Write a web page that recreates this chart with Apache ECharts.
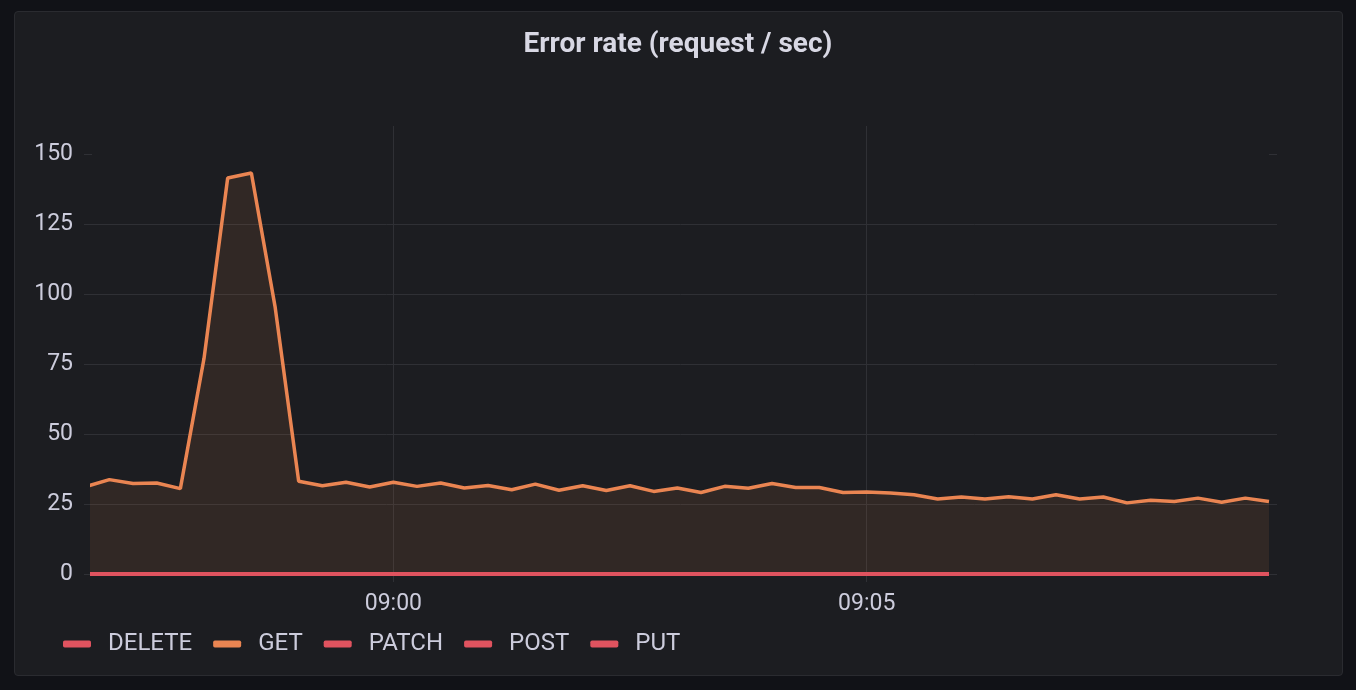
<!DOCTYPE html>
<html>
<head>
<meta charset="utf-8">
<script src="https://cdn.jsdelivr.net/npm/echarts@6/dist/echarts.min.js"></script>
<style>
  html, body { margin: 0; padding: 0; background: #111217; width: 1356px; height: 690px; overflow: hidden; }
  #panel { position: absolute; left: 14px; top: 11px; width: 1327px; height: 663px; background: #1c1d21; border: 1px solid #2a2b30; border-radius: 4px; }
  #chart { position: absolute; left: 0; top: 0; width: 1356px; height: 690px; }
</style>
</head>
<body>
<div id="panel"></div>
<div id="chart"></div>
<script>
const titleText = 'Error rate (request / sec)';
const seriesNames = ['DELETE', 'GET', 'PATCH', 'POST', 'PUT'];
const times = [
  '2024-01-01 08:56:45', '2024-01-01 08:57:00', '2024-01-01 08:57:15', '2024-01-01 08:57:30', '2024-01-01 08:57:45',
  '2024-01-01 08:58:00', '2024-01-01 08:58:15', '2024-01-01 08:58:30', '2024-01-01 08:58:45',
  '2024-01-01 08:59:00', '2024-01-01 08:59:15', '2024-01-01 08:59:30', '2024-01-01 08:59:45',
  '2024-01-01 09:00:00', '2024-01-01 09:00:15', '2024-01-01 09:00:30', '2024-01-01 09:00:45',
  '2024-01-01 09:01:00', '2024-01-01 09:01:15', '2024-01-01 09:01:30', '2024-01-01 09:01:45',
  '2024-01-01 09:02:00', '2024-01-01 09:02:15', '2024-01-01 09:02:30', '2024-01-01 09:02:45',
  '2024-01-01 09:03:00', '2024-01-01 09:03:15', '2024-01-01 09:03:30', '2024-01-01 09:03:45',
  '2024-01-01 09:04:00', '2024-01-01 09:04:15', '2024-01-01 09:04:30', '2024-01-01 09:04:45',
  '2024-01-01 09:05:00', '2024-01-01 09:05:15', '2024-01-01 09:05:30', '2024-01-01 09:05:45',
  '2024-01-01 09:06:00', '2024-01-01 09:06:15', '2024-01-01 09:06:30', '2024-01-01 09:06:45',
  '2024-01-01 09:07:00', '2024-01-01 09:07:15', '2024-01-01 09:07:30', '2024-01-01 09:07:45',
  '2024-01-01 09:08:00', '2024-01-01 09:08:15', '2024-01-01 09:08:30', '2024-01-01 09:08:45',
  '2024-01-01 09:09:00', '2024-01-01 09:09:15'
];
const getValues = [
  31.2, 33.7, 32.3, 32.5, 30.5,
  77.0, 141.4, 143.2, 95.6,
  33.1, 31.5, 32.8, 31.1,
  32.8, 31.3, 32.5, 30.7,
  31.6, 30.1, 32.1, 29.9,
  31.5, 29.8, 31.5, 29.5,
  30.7, 29.1, 31.3, 30.6,
  32.3, 30.9, 30.9, 29.1,
  29.3, 28.9, 28.3, 26.8,
  27.5, 26.8, 27.6, 26.8,
  28.3, 26.8, 27.5, 25.4,
  26.3, 25.9, 27.1, 25.6,
  27.1, 25.9
];
const deleteValues = [0,0,0,0,0,0,0,0,0,0,0,0,0,0,0,0,0,0,0,0,0,0,0,0,0,0,0,0,0,0,0,0,0,0,0,0,0,0,0,0,0,0,0,0,0,0,0,0,0,0,0];
const patchValues  = [0,0,0,0,0,0,0,0,0,0,0,0,0,0,0,0,0,0,0,0,0,0,0,0,0,0,0,0,0,0,0,0,0,0,0,0,0,0,0,0,0,0,0,0,0,0,0,0,0,0,0];
const postValues   = [0,0,0,0,0,0,0,0,0,0,0,0,0,0,0,0,0,0,0,0,0,0,0,0,0,0,0,0,0,0,0,0,0,0,0,0,0,0,0,0,0,0,0,0,0,0,0,0,0,0,0];
const putValues    = [0,0,0,0,0,0,0,0,0,0,0,0,0,0,0,0,0,0,0,0,0,0,0,0,0,0,0,0,0,0,0,0,0,0,0,0,0,0,0,0,0,0,0,0,0,0,0,0,0,0,0];
const yTicks = [0, 25, 50, 75, 100, 125, 150];
const xMin = '2024-01-01 08:56:49';
const xMax = '2024-01-01 09:09:15';

const toTs = s => new Date(s.replace(' ', 'T')).getTime();
const pairs = vals => times.map((t, i) => [toTs(t), vals[i]]);

const RED = '#e0535f';
const ORANGE = '#ea8552';
const GRID = '#2f3035';
const TEXT = '#ccccdc';
const FONT = 'Roboto, "Noto Sans", sans-serif';

function mkSeries(name, vals, color, width) {
  return {
    name: name, type: 'line', data: pairs(vals), showSymbol: false, symbol: 'none',
    lineStyle: { color: color, width: width }, itemStyle: { color: color },
    areaStyle: { color: color, opacity: 0.1 }, clip: true, z: 2
  };
}

const chart = echarts.init(document.getElementById('chart'), null, { renderer: 'canvas' });
chart.setOption({
  animation: false,
  backgroundColor: 'transparent',
  textStyle: { fontFamily: FONT },
  title: {
    text: titleText, left: 'center', top: 26,
    textStyle: { color: '#d8d8e4', fontSize: 28, fontWeight: 'bold', fontFamily: FONT }
  },
  legend: {
    left: 58, top: 627, itemWidth: 28, itemHeight: 7, itemGap: 21, icon: 'roundRect',
    data: seriesNames,
    textStyle: { color: TEXT, fontSize: 24, fontFamily: FONT, padding: [0, 0, 0, 12] }
  },
  grid: { left: 92, right: 87, top: 126, bottom: 116, containLabel: false },
  xAxis: {
    type: 'time', min: toTs(xMin), max: toTs(xMax),
    splitNumber: 2,
    axisLine: { show: false },
    axisTick: { show: true, length: 8, lineStyle: { color: GRID, width: 1 } },
    minorTick: { show: false },
    axisLabel: {
      color: TEXT, fontSize: 23, fontFamily: FONT, margin: 19,
      showMinLabel: false, showMaxLabel: false,
      formatter: '{HH}:{mm}'
    },
    splitLine: { show: true, showMinLine: false, showMaxLine: false, lineStyle: { color: GRID, width: 1 } }
  },
  yAxis: [{
    type: 'value', min: 0, max: 160, interval: 25,
    axisLine: { show: false },
    axisTick: { show: true, length: 8, customValues: yTicks, lineStyle: { color: GRID, width: 1 } },
    axisLabel: { customValues: yTicks, color: TEXT, fontSize: 23, fontFamily: FONT, margin: 19 },
    splitLine: { show: true, showMaxLine: false, lineStyle: { color: GRID, width: 1 } }
  }, {
    type: 'value', min: 0, max: 160, interval: 25, position: 'right',
    axisLine: { show: false },
    axisTick: { show: true, length: 8, customValues: yTicks, lineStyle: { color: GRID, width: 1 } },
    axisLabel: { show: false },
    splitLine: { show: false }
  }],
  series: [
    mkSeries('DELETE', deleteValues, RED, 4),
    mkSeries('GET', getValues, ORANGE, 3.5),
    mkSeries('PATCH', patchValues, RED, 4),
    mkSeries('POST', postValues, RED, 4),
    mkSeries('PUT', putValues, RED, 4)
  ]
});
</script>
</body>
</html>
